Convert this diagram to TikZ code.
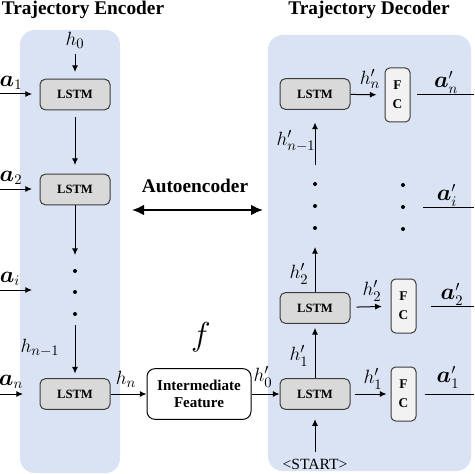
\documentclass[tikz,border=0pt]{standalone}
\usepackage{amsmath}
\usepackage{fontspec}
\setmainfont{Liberation Serif}
\usetikzlibrary{arrows.meta,positioning}

\definecolor{panelblue}{RGB}{218,227,243}
\definecolor{lstmgray}{RGB}{217,217,217}
\definecolor{fcgray}{RGB}{242,242,242}
\definecolor{edgegray}{RGB}{60,60,60}

\tikzset{every picture/.style={line width=0.75pt}}
\tikzset{
	lstm/.style={draw=edgegray, fill=lstmgray, rounded corners=4pt, minimum width=52.5pt, minimum height=23pt, inner sep=0pt, font=\fontsize{9.5}{11}\selectfont\bfseries},
	fc/.style={draw=edgegray, fill=fcgray, rounded corners=3.5pt, minimum width=18.75pt, minimum height=40.5pt, inner sep=0pt, align=center, font=\fontsize{10}{14}\selectfont\bfseries},
	feat/.style={draw=black, fill=white, rounded corners=6pt, minimum width=78pt, minimum height=38pt, inner sep=0pt, align=center, font=\fontsize{11.3}{12.75}\selectfont\bfseries},
	title/.style={inner sep=0pt, anchor=base, font=\fontsize{14.5}{17}\selectfont\bfseries},
	lbl/.style={inner sep=0pt, font=\fontsize{15}{17}\selectfont},
	albl/.style={inner sep=0pt, font=\fontsize{16}{18}\selectfont},
	arr/.style={-{Latex[length=5pt,width=4.5pt]}},
	dot/.style={circle, fill=black, inner sep=0pt, minimum size=3pt}
}

\begin{document}
\begin{tikzpicture}[x=0.75pt,y=0.75pt,yscale=-1,xscale=1]
	\path[use as bounding box] (0,0) rectangle (474,474);
	\clip (0,0) rectangle (474,474);

	%Shape: Rounded Rect [encoder panel]
	\fill[panelblue, rounded corners=11pt] (20,30) rectangle (120,473);
	%Shape: Rounded Rect [decoder panel]
	\fill[panelblue, rounded corners=11pt] (268,35) rectangle (471,471);

	% Text Node
	\node[title] (enctitle) at (83,15) {Trajectory Encoder};
	% Text Node
	\node[title] (dectitle) at (369,15) {Trajectory Decoder};
	% Text Node
	\node[title] (autoenc) at (195,192) {Autoencoder};
	\coordinate (aeL) at (132,210);
	\coordinate (aeR) at (263,210);
	\draw[{Latex[length=9pt,width=8pt]}-{Latex[length=9pt,width=8pt]}, line width=1.5pt] (aeL) -- (aeR);

	%Encoder
	\node[lstm] (e1) at (75,94.5) {LSTM};
	\node[lstm] (e2) at (75,189.5) {LSTM};
	\node[lstm] (en) at (75,394) {LSTM};
	\node[lbl] (h0) at (75,40) {$h_0$};
	\draw[arr, shorten <=4pt, shorten >=5pt] (h0) -- (e1);
	\draw[arr, shorten <=5pt, shorten >=6.5pt] (e1) -- (e2);
	\coordinate (edotsT) at (75,255);
	\draw[arr] (e2) -- (edotsT);
	\foreach \y [count=\i] in {271,292,314}
		\node[dot] (ed\i) at (75,\y) {};
	\coordinate (edotsB) at (75,325);
	\draw[arr, shorten >=3.5pt] (edotsB) -- (en);
	\node[lbl] (hn1) at (40,348) {$h_{n-1}$};

	%Inputs
	\foreach \nm/\y/\xe in {1/94/32, 2/189/32, i/290/32, n/394/23}{
		\coordinate (xs\nm) at (-5,\y);
		\coordinate (xe\nm) at (\xe,\y);
		\draw[arr] (xs\nm) -- (xe\nm);
	}
	\node[albl] (x1) at (11,83) {$\boldsymbol{a}_1$};
	\node[albl] (x2) at (11,178) {$\boldsymbol{a}_2$};
	\node[albl] (xi) at (10,279) {$\boldsymbol{a}_i$};
	\node[albl] (xn) at (11,382) {$\boldsymbol{a}_n$};

	%Intermediate feature
	\node[feat] (feat) at (199,394) {Intermediate\\Feature};
	\draw[arr] (en) -- (feat);
	\node[lbl] (hn) at (126,379) {$h_n$};
	\node[inner sep=0pt] (f) at (201,337) {\fontsize{30}{30}\selectfont$f$};

	%Decoder
	\node[lstm] (d1) at (315,394) {LSTM};
	\node[lstm] (d2) at (315,308) {LSTM};
	\node[lstm] (dn) at (315,94) {LSTM};
	\node[fc] (fc1) at (403.5,394) {F\\C};
	\node[fc] (fc2) at (403.5,306) {F\\C};
	\node[fc] (fcn) at (397.5,95) {F\\C};
	\draw[arr] (feat) -- (d1);
	\node[lbl] (hp0) at (263,377) {$h'_0$};
	\draw[arr, shorten >=3pt] (d1) -- (d2);
	\node[lbl] (hp1) at (299,356) {$h'_1$};
	\coordinate (ddotsB) at (315,247);
	\draw[arr] (d2) -- (ddotsB);
	\node[lbl] (hp2) at (299,274) {$h'_2$};
	\foreach \y [count=\i] in {184,206,228}{
		\node[dot] (dd\i) at (315,\y) {};
		\node[dot] (fd\i) at (403,\y+1) {};
	}
	\coordinate (ddotsT) at (315,165);
	\draw[arr, shorten >=9.5pt] (ddotsT) -- (dn);
	\node[lbl] (hpn1) at (296,141) {$h'_{n-1}$};

	\draw[arr, shorten >=6pt] (dn) -- (fcn);
	\node[lbl] (hqn) at (370,79) {$h'_n$};
	\draw[arr, shorten <=4.5pt, shorten >=6.5pt] (d2) -- (fc2);
	\node[lbl] (hq2) at (372,291) {$h'_2$};
	\draw[arr, shorten <=3pt, shorten >=3pt] (d1) -- (fc1);
	\node[lbl] (hq1) at (373,379) {$h'_1$};

	\node[inner sep=0pt, anchor=base, font=\fontsize{11.7}{13}\selectfont] (start) at (315,469) {<START>};
	\coordinate (startT) at (315,452);
	\draw[arr, shorten >=7pt] (startT) -- (d1);

	%Outputs
	\coordinate (outn) at (474,95);
	\coordinate (outiS) at (423,207);
	\coordinate (outi) at (474,207);
	\coordinate (out2) at (474,306);
	\coordinate (out1) at (474,394);
	\draw[shorten <=5pt] (fcn) -- (outn);
	\draw (outiS) -- (outi);
	\draw[shorten <=11pt] (fc2) -- (out2);
	\draw[shorten <=6pt] (fc1) -- (out1);
	\node[albl] (yn) at (446,82) {$\boldsymbol{a}'_n$};
	\node[albl] (yi) at (447,195) {$\boldsymbol{a}'_i$};
	\node[albl] (y2) at (452,294) {$\boldsymbol{a}'_2$};
	\node[albl] (y1) at (448,377) {$\boldsymbol{a}'_1$};
\end{tikzpicture}
\end{document}
